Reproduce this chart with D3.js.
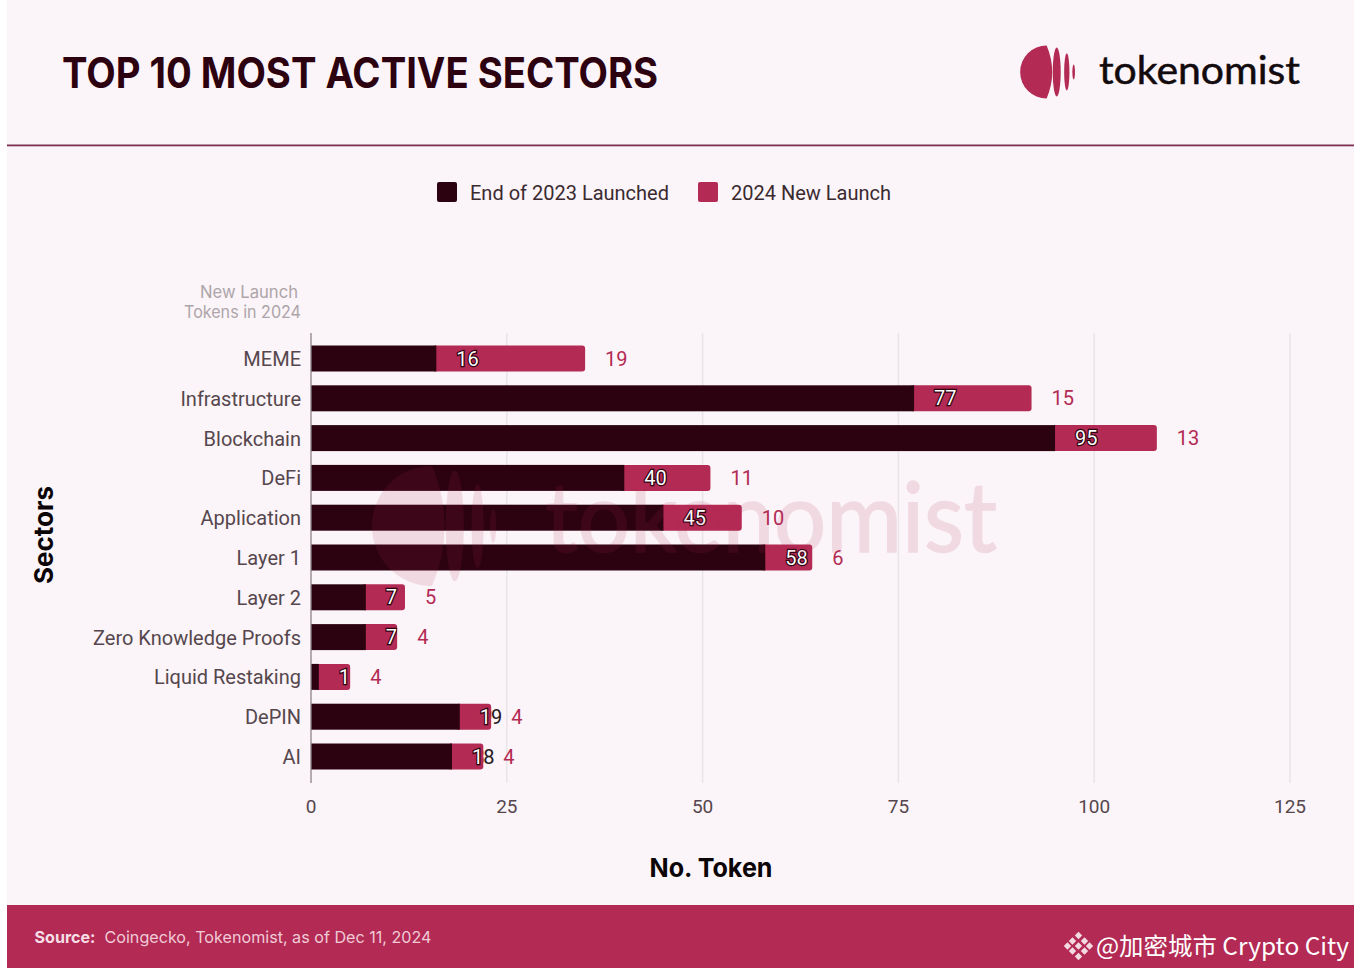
<!DOCTYPE html>
<html>
<head>
<meta charset="utf-8">
<script src="https://cdn.jsdelivr.net/npm/d3@7"></script>
<style>
  html, body { margin: 0; padding: 0; background: #fff; }
  svg { display: block; }
  text { font-family: Inter, Roboto, sans-serif; }
</style>
</head>
<body>
<svg id="chart" width="1356" height="970"></svg>
<script>
// Chart data
const sectors = ["MEME", "Infrastructure", "Blockchain", "DeFi", "Application", "Layer 1", "Layer 2", "Zero Knowledge Proofs", "Liquid Restaking", "DePIN", "AI"];
const end2023 = [16, 77, 95, 40, 45, 58, 7, 7, 1, 19, 18];
const new2024 = [19, 15, 13, 11, 10, 6, 5, 4, 4, 4, 4];
const xTicks = [0, 25, 50, 75, 100, 125];
const legendLabels = ["End of 2023 Launched", "2024 New Launch"];

const dark = "#2d0210";
const pink = "#b32a54";
const bg = "#fbf4f8";

const svg = d3.select("#chart");

// Page background, header rule and footer
svg.append("rect").attr("x", 7).attr("y", 0).attr("width", 1347).attr("height", 906).attr("fill", bg);
svg.append("rect").attr("x", 7).attr("y", 144.5).attr("width", 1347).attr("height", 1.8).attr("fill", "#7e2f55");
svg.append("rect").attr("x", 7).attr("y", 905).attr("width", 1347).attr("height", 63).attr("fill", pink);

svg.append("text").attr("x", 62).attr("y", 87.5)
  .attr("font-size", 42).attr("font-weight", 700).attr("fill", dark)
  .attr("textLength", 596).attr("lengthAdjust", "spacingAndGlyphs")
  .text("TOP 10 MOST ACTIVE SECTORS");

// Draws the tokenomist mark (half disc plus three slivers), used by logo and watermark
function drawLogo(g, cx, cy, r, fill) {
  g.append("path")
    .attr("d", `M${cx + r * 0.1},${cy - r} A${r},${r} 0 1 0 ${cx + r * 0.1},${cy + r} Q${cx + r * 0.52},${cy} ${cx + r * 0.1},${cy - r}Z`)
    .attr("fill", fill);
  g.append("ellipse").attr("cx", cx + r * 0.48).attr("cy", cy).attr("rx", r * 0.15).attr("ry", r * 0.92).attr("fill", fill);
  g.append("ellipse").attr("cx", cx + r * 0.86).attr("cy", cy).attr("rx", r * 0.1).attr("ry", r * 0.7).attr("fill", fill);
  g.append("ellipse").attr("cx", cx + r * 1.12).attr("cy", cy).attr("rx", r * 0.05).attr("ry", r * 0.28).attr("fill", fill);
}

drawLogo(svg.append("g"), 1044, 72, 26.5, pink);
svg.append("text").attr("x", 1099).attr("y", 84)
  .attr("font-size", 39).attr("fill", "#120a0d")
  .attr("stroke", "#120a0d").attr("stroke-width", 0.5)
  .attr("textLength", 201).attr("lengthAdjust", "spacingAndGlyphs")
  .style("font-family", "Lato").text("tokenomist");

// Legend
const legendX = [437, 698];
legendLabels.forEach((label, i) => {
  svg.append("rect").attr("x", legendX[i]).attr("y", 182).attr("width", 20).attr("height", 20).attr("rx", 2)
    .attr("fill", i === 0 ? dark : pink);
  svg.append("text").attr("x", legendX[i] + 33).attr("y", 199.5)
    .attr("font-size", 20).attr("fill", "#3a2a30")
    .style("font-family", "Roboto").text(label);
});

// Scales
const x = d3.scaleLinear().domain([0, 125]).range([311, 1290]);
const y = d3.scaleBand().domain(sectors).range([338.6, 776.4]).paddingInner(0.347).paddingOuter(0.1735);

// Gridlines
svg.append("g").selectAll("line").data(xTicks.slice(1)).join("line")
  .attr("x1", d => x(d)).attr("x2", d => x(d))
  .attr("y1", 333).attr("y2", 783)
  .attr("stroke", "#e9e4e7").attr("stroke-width", 1.5);

// Bars
const rows = svg.append("g").selectAll("g").data(sectors).join("g");
rows.append("rect")
  .attr("x", (d, i) => x(end2023[i]) - 4)
  .attr("y", d => y(d))
  .attr("width", (d, i) => x(end2023[i] + new2024[i]) - x(end2023[i]) + 4)
  .attr("height", y.bandwidth())
  .attr("rx", 3)
  .attr("fill", pink);
rows.append("rect")
  .attr("x", x(0))
  .attr("y", d => y(d))
  .attr("width", (d, i) => x(end2023[i]) - x(0))
  .attr("height", y.bandwidth())
  .attr("fill", dark);

// Axes
const xAxis = svg.append("g").attr("transform", "translate(-0.5,786)")
  .call(d3.axisBottom(x).tickValues(xTicks).tickSize(0).tickPadding(14));
xAxis.select(".domain").remove();
xAxis.selectAll("text").attr("font-size", 19).attr("fill", "#55474d").style("font-family", "Roboto");

const yAxis = svg.append("g").attr("transform", "translate(311,1)")
  .call(d3.axisLeft(y).tickSize(0).tickPadding(10));
yAxis.select(".domain").remove();
yAxis.selectAll("text").attr("font-size", 20).attr("fill", "#55474d").style("font-family", "Roboto");

svg.append("line").attr("x1", 311).attr("x2", 311).attr("y1", 333).attr("y2", 783)
  .attr("stroke", "#8d8488").attr("stroke-width", 1.3);

// Inside labels: white with an outline over the pink segment, plain dark past the bar end
const defs = svg.append("defs");
sectors.forEach((s, i) => {
  const barEnd = x(end2023[i] + new2024[i]);
  const fillGrad = defs.append("linearGradient").attr("id", "labelFill" + i)
    .attr("gradientUnits", "userSpaceOnUse")
    .attr("x1", barEnd).attr("x2", barEnd + 0.5).attr("y1", 0).attr("y2", 0);
  fillGrad.append("stop").attr("offset", 0).attr("stop-color", "#fff");
  fillGrad.append("stop").attr("offset", 1).attr("stop-color", "#241a1e");
  const strokeGrad = defs.append("linearGradient").attr("id", "labelStroke" + i)
    .attr("gradientUnits", "userSpaceOnUse")
    .attr("x1", barEnd).attr("x2", barEnd + 0.5).attr("y1", 0).attr("y2", 0);
  strokeGrad.append("stop").attr("offset", 0).attr("stop-color", dark);
  strokeGrad.append("stop").attr("offset", 1).attr("stop-color", dark).attr("stop-opacity", 0);
});
const labelX = i => x(end2023[i]) + 20;
const labelY = s => y(s) + y.bandwidth() / 2 + 7;

rows.append("text")
  .attr("x", (d, i) => labelX(i)).attr("y", labelY)
  .attr("font-size", 20)
  .attr("fill", (d, i) => `url(#labelFill${i})`)
  .attr("stroke", (d, i) => `url(#labelStroke${i})`)
  .attr("stroke-width", 2.4).attr("paint-order", "stroke")
  .style("font-family", "Roboto")
  .text((d, i) => end2023[i]);

// Values to the right of the bars are the 2024 launches
rows.append("text")
  .attr("x", (d, i) => x(end2023[i] + new2024[i]) + 20).attr("y", labelY)
  .attr("font-size", 20).attr("fill", pink).style("font-family", "Roboto")
  .text((d, i) => new2024[i]);

// Column note
const note = svg.append("g").attr("fill", "#ada5a9").attr("text-anchor", "end");
note.append("text").attr("x", 298).attr("y", 297.5).attr("font-size", 17)
  .attr("textLength", 98).attr("lengthAdjust", "spacingAndGlyphs").text("New Launch");
note.append("text").attr("x", 301).attr("y", 317.5).attr("font-size", 17)
  .attr("textLength", 117).attr("lengthAdjust", "spacingAndGlyphs").text("Tokens in 2024");

// Axis titles
svg.append("text").attr("x", 711).attr("y", 877).attr("text-anchor", "middle")
  .attr("font-size", 26).attr("font-weight", 700).attr("fill", "#0b0508")
  .attr("textLength", 123).attr("lengthAdjust", "spacingAndGlyphs").text("No. Token");
svg.append("text").attr("transform", "translate(53,535) rotate(-90)").attr("text-anchor", "middle")
  .attr("font-size", 26).attr("font-weight", 700).attr("fill", "#0b0508").text("Sectors");

// Watermark sits above the bars
const wm = svg.append("g").attr("opacity", 0.13);
drawLogo(wm, 426, 526, 60, pink);
wm.append("text").attr("x", 545).attr("y", 552)
  .attr("font-size", 96).attr("fill", pink).attr("stroke", pink).attr("stroke-width", 1.5)
  .attr("textLength", 452).attr("lengthAdjust", "spacingAndGlyphs")
  .style("font-family", "Lato").text("tokenomist");

// Footer text
svg.append("text").attr("x", 34.5).attr("y", 942.5).attr("font-size", 16.5).attr("font-weight", 700).attr("fill", "#f6dfe6")
  .attr("textLength", 61).attr("lengthAdjust", "spacingAndGlyphs").text("Source:");
svg.append("text").attr("x", 104.5).attr("y", 942.5).attr("font-size", 16.5).attr("fill", "#f0cbd7")
  .attr("textLength", 327).attr("lengthAdjust", "spacingAndGlyphs").text("Coingecko, Tokenomist, as of Dec 11, 2024");

// Exchange watermark, small diamonds around a centre
const diamonds = [[0, -10.5], [-6, -5], [6, -5], [-11, 0], [0, 0], [11, 0], [-6, 5], [6, 5], [0, 10.5]];
svg.append("g").attr("transform", "translate(1078.5,946)").selectAll("rect").data(diamonds).join("rect")
  .attr("x", -2.6).attr("y", -2.6).attr("width", 5.2).attr("height", 5.2)
  .attr("transform", d => `translate(${d[0]},${d[1]}) rotate(45)`)
  .attr("fill", "#f4dbe3");
svg.append("text").attr("x", 1096).attr("y", 955)
  .attr("font-size", 24).attr("fill", "#fff")
  .attr("textLength", 253).attr("lengthAdjust", "spacingAndGlyphs")
  .style("font-family", "'Noto Sans CJK SC'").text("@加密城市 Crypto City");
</script>
</body>
</html>
